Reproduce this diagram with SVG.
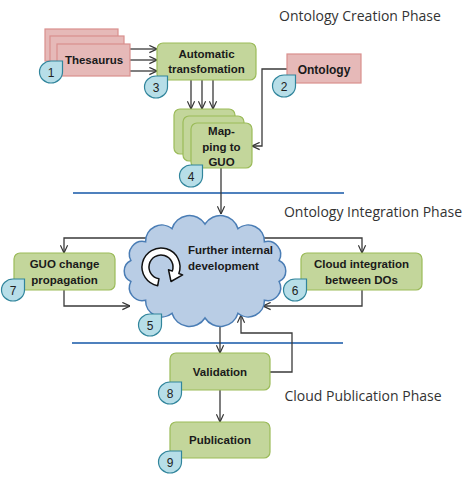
<svg xmlns="http://www.w3.org/2000/svg" width="474" height="477" viewBox="0 0 474 477">
<defs>
<marker id="arr" viewBox="0 0 10 10" refX="9.5" refY="5" markerWidth="9" markerHeight="9" markerUnits="userSpaceOnUse" orient="auto">
<path d="M1,1 L9.5,5 L1,9" fill="none" stroke="#333" stroke-width="1.3"/>
</marker>
<path id="badge" d="M11.5,-11 L11.5,0 A11.5,11 0 1 1 0,-11 Z"/>
</defs>
<style>
.bg{fill:#ffffff}
.pink{fill:#e6b9b8;stroke:#d98f8d;stroke-width:1.2}
.green{fill:#c3d69b;stroke:#9bbb59;stroke-width:1.2}
.bd{fill:#b7dee8;stroke:#31859c;stroke-width:1.2}
.bt{font-family:"Liberation Sans",Arial,sans-serif;font-size:12px;fill:#222;text-anchor:middle}
.lbl{font-family:"Liberation Sans",Arial,sans-serif;font-size:11.5px;font-weight:bold;fill:#1a1a1a;text-anchor:middle}
.phase{font-family:"Open Sans","Liberation Sans",sans-serif;font-size:14px;fill:#333;text-anchor:middle}
.con{fill:none;stroke:#3a3a3a;stroke-width:1.3}
.sep{stroke:#4f81bd;stroke-width:2}
</style>
<rect class="bg" x="0" y="0" width="474" height="477"/>

<g id="separators">
<line class="sep" x1="73" y1="193" x2="344" y2="193"/>
<line class="sep" x1="72" y1="343" x2="343" y2="343"/>
</g>

<g id="phases">
<text class="phase" x="360" y="21">Ontology Creation Phase</text>
<text class="phase" x="373" y="217">Ontology Integration Phase</text>
<text class="phase" x="363" y="401">Cloud Publication Phase</text>
</g>

<g id="connectors">
<line class="con" x1="130" y1="49" x2="157" y2="49" marker-end="url(#arr)"/>
<line class="con" x1="130" y1="60" x2="157" y2="60" marker-end="url(#arr)"/>
<line class="con" x1="130" y1="71" x2="157" y2="71" marker-end="url(#arr)"/>
<line class="con" x1="191" y1="80" x2="191" y2="109" marker-end="url(#arr)"/>
<line class="con" x1="202" y1="80" x2="202" y2="109" marker-end="url(#arr)"/>
<line class="con" x1="213" y1="80" x2="213" y2="109" marker-end="url(#arr)"/>
<path class="con" d="M287,69 H262 V146 H252" marker-end="url(#arr)"/>
<line class="con" x1="221" y1="168" x2="221" y2="214" marker-end="url(#arr)"/>
<path class="con" d="M160,238 H64 V253" marker-end="url(#arr)"/>
<path class="con" d="M260,238 H362 V253" marker-end="url(#arr)"/>
<path class="con" d="M64,290 V306 H130" marker-end="url(#arr)"/>
<path class="con" d="M362,290 V306 H263" marker-end="url(#arr)"/>
<line class="con" x1="220" y1="327" x2="220" y2="353" marker-end="url(#arr)"/>
<path class="con" d="M270,372 H292 V333 H241 V315" marker-end="url(#arr)"/>
<line class="con" x1="220" y1="390" x2="220" y2="422" marker-end="url(#arr)"/>
</g>

<g id="thesaurus">
<rect class="pink" x="45" y="29" width="73" height="32"/>
<rect class="pink" x="50" y="36" width="74" height="32"/>
<rect class="pink" x="57" y="44" width="73" height="32"/>
<text class="lbl" x="94" y="64">Thesaurus</text>
<use href="#badge" class="bd" x="51" y="72"/>
<text class="bt" x="51" y="77">1</text>
</g>

<g id="ontology">
<rect class="pink" x="287" y="54" width="74" height="29"/>
<text class="lbl" x="324" y="74" style="font-size:12px">Ontology</text>
<use href="#badge" class="bd" x="284" y="86"/>
<text class="bt" x="284" y="91">2</text>
</g>

<g id="automatic">
<rect class="green" x="157" y="43" width="99" height="37" rx="6"/>
<text class="lbl" x="206.5" y="58">Automatic</text>
<text class="lbl" x="206.5" y="73">transfomation</text>
<use href="#badge" class="bd" x="156" y="87"/>
<text class="bt" x="156" y="92">3</text>
</g>

<g id="mapping">
<rect class="green" x="174" y="109" width="61" height="45" rx="6"/>
<rect class="green" x="183" y="116" width="61" height="45" rx="6"/>
<rect class="green" x="191" y="123" width="61" height="45" rx="6"/>
<text class="lbl" x="221.5" y="135">Map-</text>
<text class="lbl" x="221.5" y="151">ping to</text>
<text class="lbl" x="221.5" y="166">GUO</text>
<use href="#badge" class="bd" x="191" y="176"/>
<text class="bt" x="191" y="181">4</text>
</g>

<g id="cloud">
<path d="M205,224 A18.3,18.3 0 0 1 238,228.7 A16.2,16.2 0 0 1 264.4,241.7 A13.1,13.1 0 0 1 279.1,260.5 A11.6,11.6 0 0 1 279.1,281.5 A13.1,13.1 0 0 1 264.4,300.3 A16.2,16.2 0 0 1 238,313.3 A18.3,18.3 0 0 1 205,318 A18.3,18.3 0 0 1 172,313.3 A16.2,16.2 0 0 1 145.6,300.3 A13.1,13.1 0 0 1 130.9,281.5 A11.6,11.6 0 0 1 130.9,260.5 A13.1,13.1 0 0 1 145.6,241.7 A16.2,16.2 0 0 1 172,228.7 A18.3,18.3 0 0 1 205,224 Z" fill="#b9cde5" stroke="#4a7db5" stroke-width="1.5"/>
<path d="M157.7,285.71 A19,19 0 1 1 178.85,273.5 L182.61,274.87 L171,281.5 L168.52,269.74 L172.28,271.1 A12,12 0 1 0 158.92,278.82 Z" fill="#ffffff" stroke="#111" stroke-width="1.5" stroke-linejoin="round"/>
<text class="lbl" x="188" y="254" style="text-anchor:start">Further internal</text>
<text class="lbl" x="188" y="270" style="text-anchor:start">development</text>
<use href="#badge" class="bd" x="150" y="325"/>
<text class="bt" x="150" y="330">5</text>
</g>

<g id="guo-change">
<rect class="green" x="14" y="253" width="101" height="37" rx="6"/>
<text class="lbl" x="64.5" y="268">GUO change</text>
<text class="lbl" x="64.5" y="284">propagation</text>
<use href="#badge" class="bd" x="13" y="290"/>
<text class="bt" x="13" y="295">7</text>
</g>

<g id="cloud-integration">
<rect class="green" x="301" y="253" width="121" height="37" rx="6"/>
<text class="lbl" x="361.5" y="268">Cloud integration</text>
<text class="lbl" x="361.5" y="284">between DOs</text>
<use href="#badge" class="bd" x="295" y="290"/>
<text class="bt" x="295" y="295">6</text>
</g>

<g id="validation">
<rect class="green" x="170" y="353" width="100" height="37" rx="6"/>
<text class="lbl" x="220" y="376">Validation</text>
<use href="#badge" class="bd" x="170" y="393"/>
<text class="bt" x="170" y="398">8</text>
</g>

<g id="publication">
<rect class="green" x="170" y="422" width="100" height="36" rx="6"/>
<text class="lbl" x="220" y="444">Publication</text>
<use href="#badge" class="bd" x="170" y="462"/>
<text class="bt" x="170" y="467">9</text>
</g>
</svg>
